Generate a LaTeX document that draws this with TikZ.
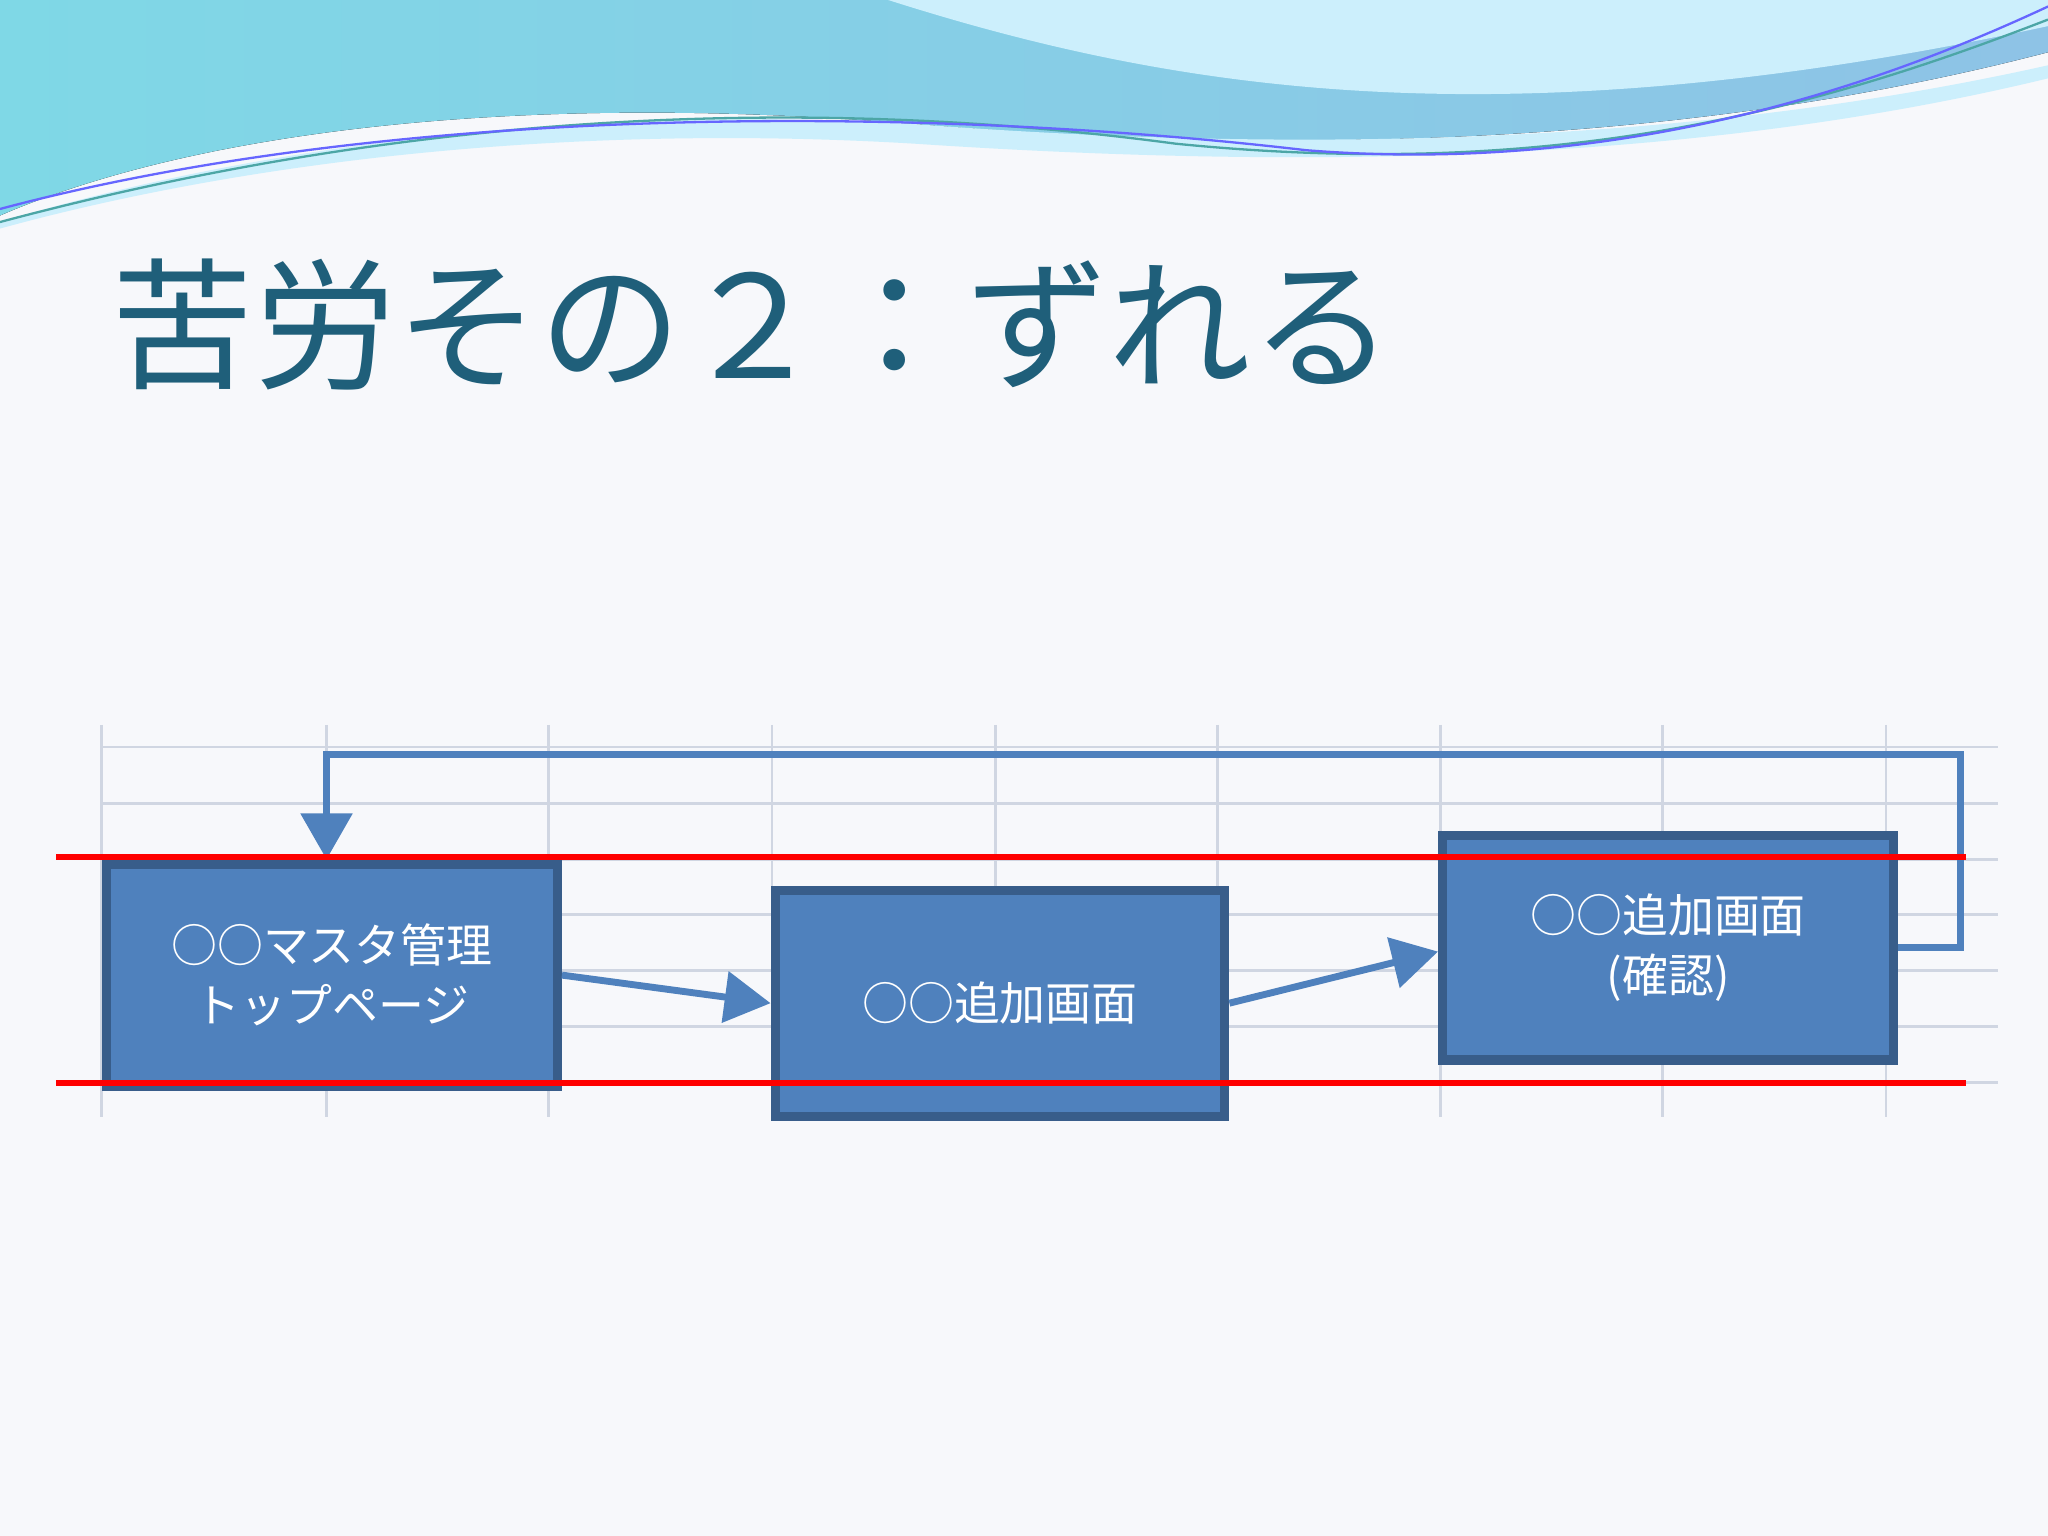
\documentclass[tikz,border=0pt]{standalone}
\usepackage{fontspec}
\newfontfamily\cjk{Noto Sans CJK JP}
\usetikzlibrary{arrows.meta}
\definecolor{bfill}{HTML}{4F81BD}
\definecolor{bdraw}{HTML}{385D8A}
\definecolor{grid}{HTML}{D0D6E2}
\definecolor{ttl}{HTML}{1F5F7A}
\definecolor{bg}{HTML}{F7F8FB}
\definecolor{wa}{HTML}{7FD8E6}
\definecolor{wb}{HTML}{8EC3E6}
\tikzset{
 box/.style={draw=bdraw,fill=bfill,line width=2pt,text=white,font=\cjk\fontsize{10}{13}\selectfont,align=center,anchor=north west},
 conn/.style={draw=bfill,line width=1.5pt,-{Triangle[length=10pt,width=11pt]}}
}
\begin{document}
\begin{tikzpicture}[x=0.01cm,y=-0.01cm]
\fill[bg] (0,0) rectangle (1568,1176);
\useasboundingbox (0,0) rectangle (1568,1176);
% header waves
\fill[left color=wa,right color=wb] (0,0) -- (1568,0) -- (1568,40) .. controls (1300,110) and (1000,120) .. (700,95) .. controls (400,70) and (150,100) .. (0,165) -- cycle;
\fill[white!80!cyan] (680,0) .. controls (900,70) and (1150,110) .. (1568,20) -- (1568,0) -- cycle;
\fill[cyan!20!white] (0,170) .. controls (200,110) and (450,80) .. (700,95) .. controls (1000,118) and (1300,110) .. (1568,50) -- (1568,60) .. controls (1300,125) and (1000,130) .. (700,110) .. controls (450,95) and (200,120) .. (0,175) -- cycle;
\draw[teal!70,line width=0.5pt] (0,170) .. controls (300,90) and (600,70) .. (900,110) .. controls (1200,140) and (1400,80) .. (1568,15);
\draw[blue!60,line width=0.5pt] (0,160) .. controls (300,80) and (700,80) .. (1000,115) .. controls (1250,135) and (1450,60) .. (1568,5);
% title
\node[anchor=base west,text=ttl,font=\cjk\fontsize{31}{36}\selectfont,inner sep=0] (title) at (85,290) {苦労その２：ずれる};
% grid
\foreach \x in {78,250,420,591,762,932,1103,1273,1444} \draw[grid,line width=0.6pt] (\x,555) -- (\x,855);
\foreach \y in {572,615,658,700,743,786,829} \draw[grid,line width=0.6pt] (78,\y) -- (1530,\y);
% boxes
\node[box,minimum width=3.45cm,minimum height=1.7cm] (b1) at (78,658) {○○マスタ管理\\トップページ};
\node[box,minimum width=3.44cm,minimum height=1.73cm] (b2) at (590,678) {○○追加画面};
\node[box,minimum width=3.45cm,minimum height=1.72cm] (b3) at (1101,636) {○○追加画面\\(確認)};
% connectors
\draw[conn] (b1.east) -- (b2.west);
\draw[conn] (b2.east) -- ([yshift=-0.03cm]b3.west);
\coordinate (lp) at (1501,578);
\coordinate (tp) at (250,658);
\draw[conn] (b3.east) -| (lp) -| (tp);
% red lines
\draw[red,line width=1.2pt] (43,656) -- (1505,656);
\draw[red,line width=1.2pt] (43,829) -- (1505,829);
\end{tikzpicture}
\end{document}
